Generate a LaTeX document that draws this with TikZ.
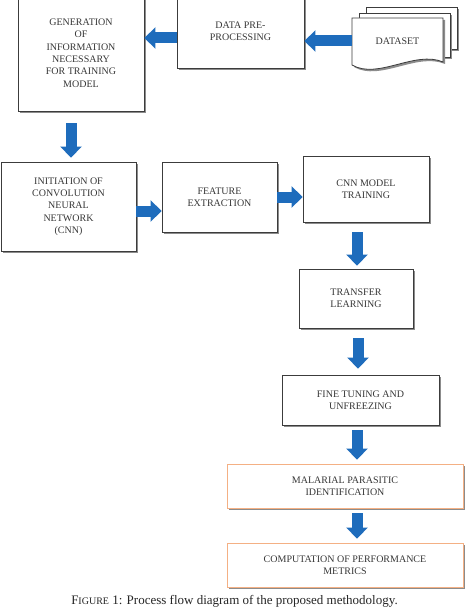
\documentclass[tikz,border=0pt]{standalone}
\usepackage{fontspec}
\setmainfont{Liberation Serif}
\usetikzlibrary{arrows.meta,calc,shadows}
\definecolor{arrowblue}{RGB}{30,108,188}
\definecolor{boxline}{RGB}{60,60,60}
\definecolor{txtgray}{RGB}{55,55,55}
\definecolor{orangeline}{RGB}{244,176,132}
\tikzset{
  procbox/.style={draw=boxline, line width=0.8pt, fill=white, align=center,
    text=txtgray, font=\fontsize{10}{12.3}\selectfont, inner sep=0pt,
    drop shadow={shadow xshift=2pt, shadow yshift=-2pt, fill=black!45, opacity=1}},
  orangebox/.style={procbox, draw=orangeline},
  pagesheet/.style={draw=boxline, line width=0.8pt, fill=white,
    drop shadow={shadow xshift=2pt, shadow yshift=-2pt, fill=black!45, opacity=1}},
  blockarrow/.style={draw=arrowblue, line width=11pt, -{Triangle[width=21pt,length=11pt]}},
}
\begin{document}
\begin{tikzpicture}[x=1pt,y=-1pt]
\useasboundingbox (0,0) rectangle (474,610);
\fill[white] (0,0) rectangle (474,610);

% boxes
\node[procbox, minimum width=126pt, minimum height=116pt] (gen) at (81,53)
  {GENERATION\\OF\\INFORMATION\\NECESSARY\\FOR TRAINING\\MODEL};
\node[procbox, minimum width=127pt, minimum height=73pt] (pre) at (240.5,31.5)
  {DATA PRE-\\PROCESSING};

% dataset (stacked documents)
\path[pagesheet] (366,7) rectangle (457,49);
\path[pagesheet] (359,13) rectangle (450,57);
\path[pagesheet] (352,18) -- (443,18) -- (443,62)
  .. controls (415,50) and (378,80) .. (352,65) -- cycle;
\node[inner sep=0pt, minimum width=91pt, text=txtgray, font=\fontsize{10}{12.3}\selectfont] (ds) at (397.5,41) {DATASET};

\node[procbox, minimum width=135pt, minimum height=89pt] (init) at (68.5,206.5)
  {INITIATION OF\\CONVOLUTION\\NEURAL\\NETWORK\\(CNN)};
\node[procbox, minimum width=115pt, minimum height=70pt] (feat) at (219.5,197)
  {FEATURE\\EXTRACTION};
\node[procbox, minimum width=126pt, minimum height=66pt] (cnn) at (366,189)
  {CNN MODEL\\TRAINING};
\node[procbox, minimum width=114pt, minimum height=59pt] (tl) at (356,298.5)
  {TRANSFER\\LEARNING};
\node[procbox, minimum width=157pt, minimum height=50pt] (fine) at (360.5,400)
  {FINE TUNING AND\\UNFREEZING};
\node[orangebox, minimum width=236pt, minimum height=44pt] (mal) at (345,486)
  {MALARIAL PARASITIC\\IDENTIFICATION};
\node[orangebox, minimum width=236pt, minimum height=44pt] (comp) at (345,565)
  {COMPUTATION OF PERFORMANCE\\METRICS};

% arrows
\draw[blockarrow] (ds.west) -- (ds.west -| pre.east);
\draw[blockarrow] ([yshift=-6.5pt]pre.west) -- ([yshift=-6.5pt]pre.west -| gen.east);
\draw[blockarrow] ($(gen.south)+(-10,12)$) -- ($(gen.south |- init.north)+(-10,-4)$);
\draw[blockarrow] ([yshift=-4.5pt]init.east) -- ([yshift=-4.5pt]init.east -| feat.west);
\draw[blockarrow] (feat.east) -- (feat.east -| cnn.west);
\draw[blockarrow] ($(cnn.south -| tl.north)+(1,10)$) -- ($(tl.north)+(1,-3)$);
\draw[blockarrow] ($(tl.south)+(2,10)$) -- ($(fine.north -| tl.south)+(2,-6)$);
\draw[blockarrow] ($(fine.south)+(-3.5,5)$) -- ($(mal.north -| fine.south)+(-3.5,-4)$);
\draw[blockarrow] ($(mal.south)+(12,5)$) -- ($(comp.north)+(12,-4)$);

% caption
\node[font=\fontsize{13}{15}\selectfont, text=black!85, inner sep=0pt] (cap) at (234.5,601)
  {F{\fontsize{10}{12}\selectfont IGURE} 1: Process flow diagram of the proposed methodology.};
\end{tikzpicture}
\end{document}
